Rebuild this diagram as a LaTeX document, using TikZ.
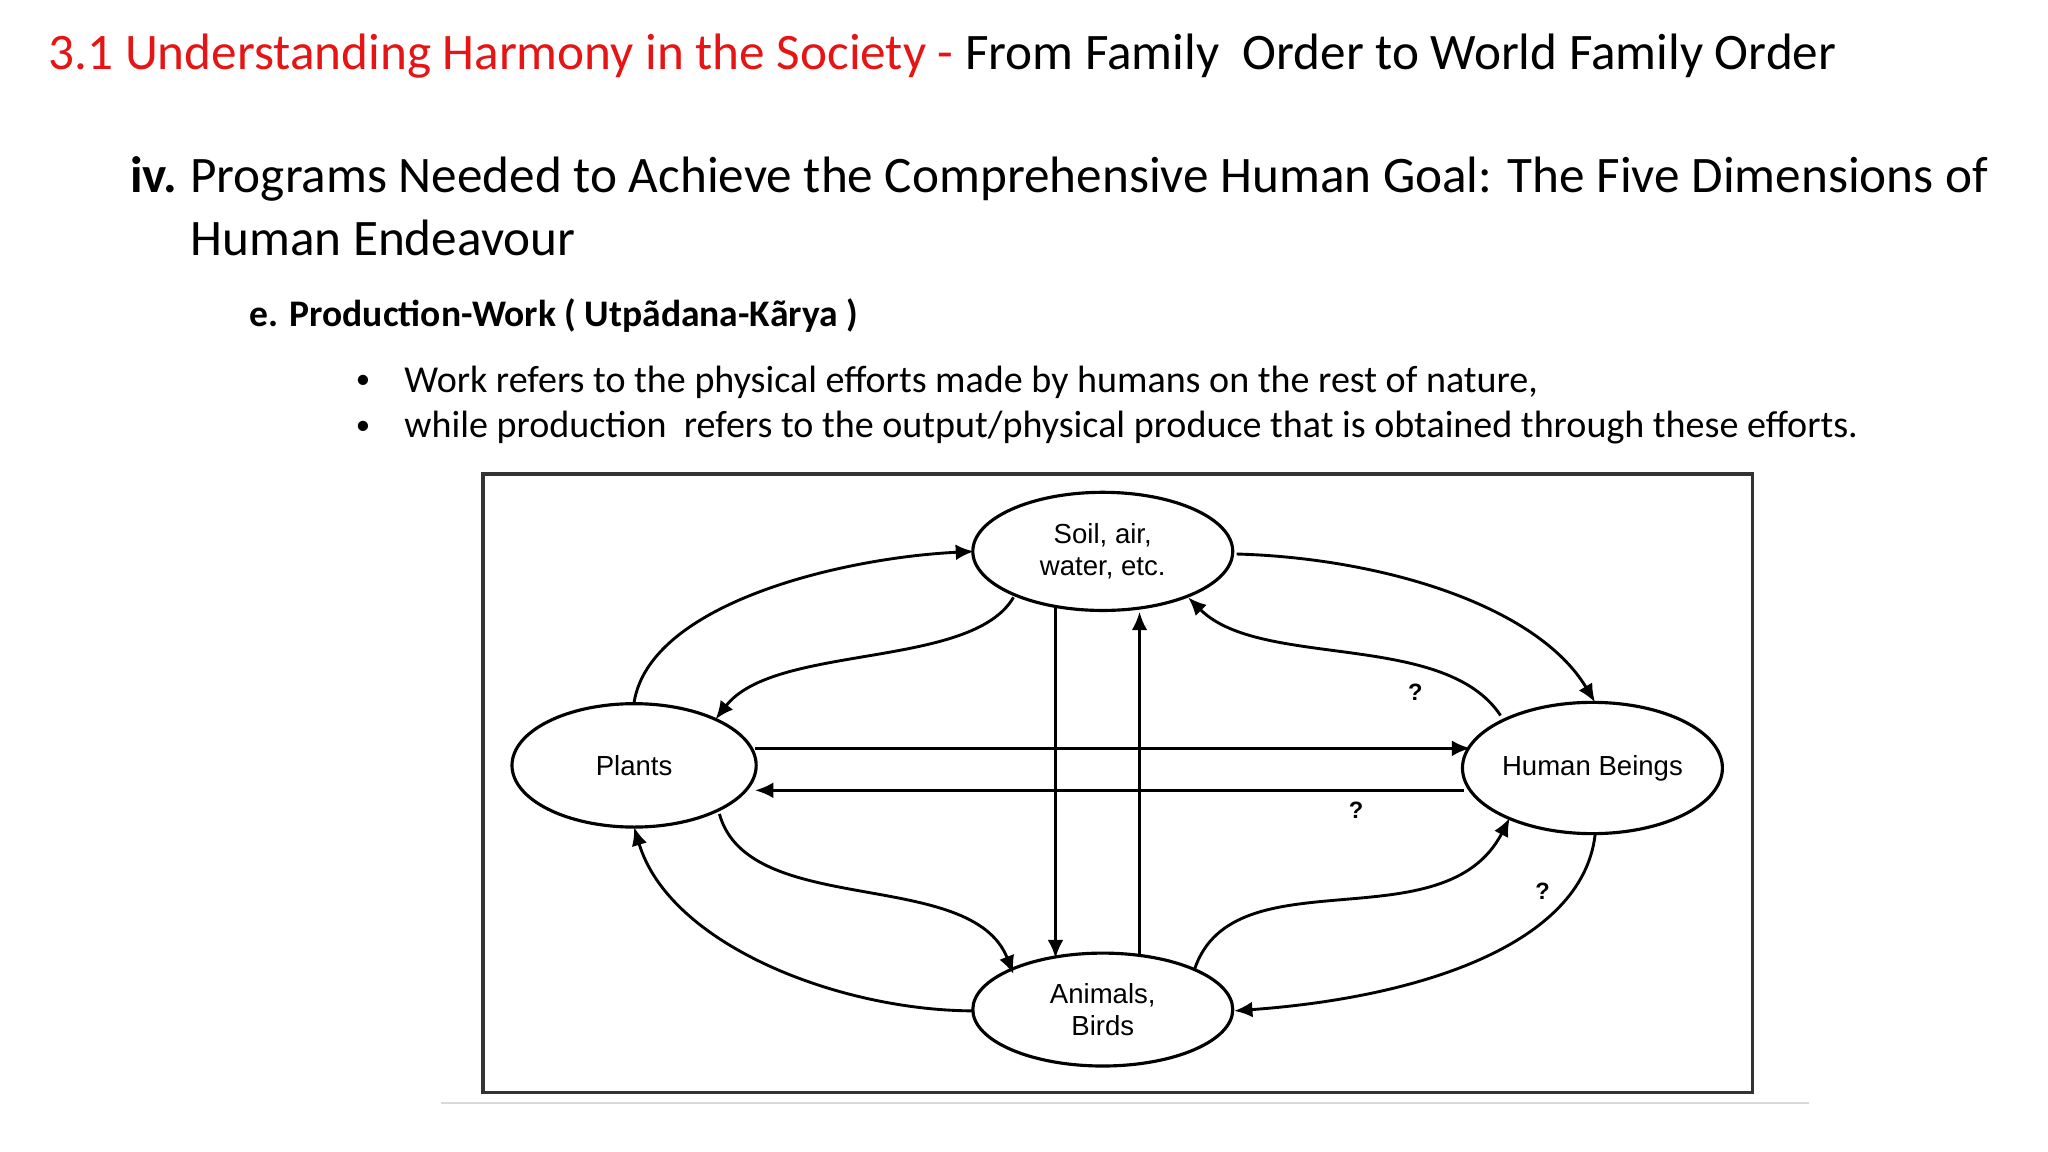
\documentclass[tikz,border=0pt]{standalone}
\usepackage{fontspec}
\setmainfont{Carlito}
\newfontfamily\arialf{Liberation Sans}
\usetikzlibrary{shapes.geometric,arrows.meta}
\begin{document}
\begin{tikzpicture}[x=0.5pt,y=-0.5pt,
  ell/.style={draw,line width=1.2pt,ellipse,inner sep=0pt,font=\arialf\fontsize{10.5}{12}\selectfont,align=center},
  con/.style={line width=1.1pt,-{Latex[length=7pt,width=6pt]}},
  qm/.style={font=\arialf\bfseries\fontsize{9}{10}\selectfont}]
\useasboundingbox (0,0) rectangle (1560,877.5);
\node[anchor=west,font=\fontsize{19.5}{22}\selectfont] (title) at (30,43) {\textcolor[RGB]{230,20,20}{3.1 Understanding Harmony in the Society -} From Family\ \ Order to World Family Order};
\node[anchor=base west,font=\fontsize{19.5}{22}\selectfont\bfseries] (iv) at (92,147) {iv.};
\node[anchor=base west,font=\fontsize{19.5}{22}\selectfont] (l1) at (138,147) {Programs Needed to Achieve the Comprehensive Human Goal: The Five Dimensions of};
\node[anchor=base west,font=\fontsize{19.5}{22}\selectfont] (l2) at (138,195) {Human Endeavour};
\node[anchor=west,font=\fontsize{14.3}{16}\selectfont\bfseries] (e) at (183,240) {e. Production-Work ( Utpãdana-Kãrya )};
\node[anchor=west,font=\fontsize{11}{16}\selectfont] (b1d) at (264,291) {•};
\node[anchor=west,font=\fontsize{14.5}{16}\selectfont] (b1) at (301,291) {Work refers to the physical efforts made by humans on the rest of nature,};
\node[anchor=west,font=\fontsize{11}{16}\selectfont] (b2d) at (264,326) {•};
\node[anchor=west,font=\fontsize{14.5}{16}\selectfont] (b2) at (301,326) {while production\ \ refers to the output/physical produce that is obtained through these efforts.};
\draw[line width=1.3pt,black!80] (368,361) rectangle (1335,832);
\draw[black!15,line width=0.8pt] (336,840) -- (1378,840);
\node[ell,minimum width=99pt,minimum height=45pt] (s) at (840,420) {Soil, air,\\water, etc.};
\node[ell,minimum width=93pt,minimum height=47pt] (p) at (483,583) {Plants};
\node[ell,minimum width=99pt,minimum height=50pt] (h) at (1213,585) {Human Beings};
\node[ell,minimum width=99pt,minimum height=43pt] (a) at (840,769) {Animals,\\Birds};
\coordinate (p1) at (483,535); \coordinate (s1) at (742,420);
\coordinate (s2) at (772,455); \coordinate (p2) at (545,548);
\coordinate (s3) at (942,422); \coordinate (h3) at (1215,535);
\coordinate (h4) at (1143,545); \coordinate (s4) at (905,455);
\coordinate (p5) at (575,570); \coordinate (h5) at (1120,570);
\coordinate (h6) at (1115,602); \coordinate (p6) at (575,602);
\coordinate (s7) at (804,463); \coordinate (a7) at (804,730);
\coordinate (a8) at (868,728); \coordinate (s8) at (868,466);
\coordinate (p9) at (548,620); \coordinate (a9) at (772,742);
\coordinate (a10) at (742,770); \coordinate (p10) at (483,630);
\coordinate (a11) at (910,738); \coordinate (h11) at (1150,623);
\coordinate (h12) at (1215,636); \coordinate (a12) at (940,770);
\draw[con] (p1) .. controls (495,460) and (640,425) .. (s1);
\draw[con] (s2) .. controls (740,510) and (590,490) .. (p2);
\draw[con] (s3) .. controls (1050,425) and (1170,460) .. (h3);
\draw[con] (h4) .. controls (1100,480) and (960,510) .. (s4);
\draw[con] (p5) -- (h5);
\draw[con] (h6) -- (p6);
\draw[con] (s7) -- (a7);
\draw[con] (a8) -- (s8);
\draw[con] (p9) .. controls (570,700) and (740,660) .. (a9);
\draw[con] (a10) .. controls (640,770) and (510,720) .. (p10);
\draw[con] (a11) .. controls (940,650) and (1100,720) .. (h11);
\draw[con] (h12) .. controls (1205,720) and (1080,760) .. (a12);
\node[qm] (q1) at (1078,527) {?};
\node[qm] (q2) at (1033,617) {?};
\node[qm] (q3) at (1175,679) {?};
\end{tikzpicture}
\end{document}
